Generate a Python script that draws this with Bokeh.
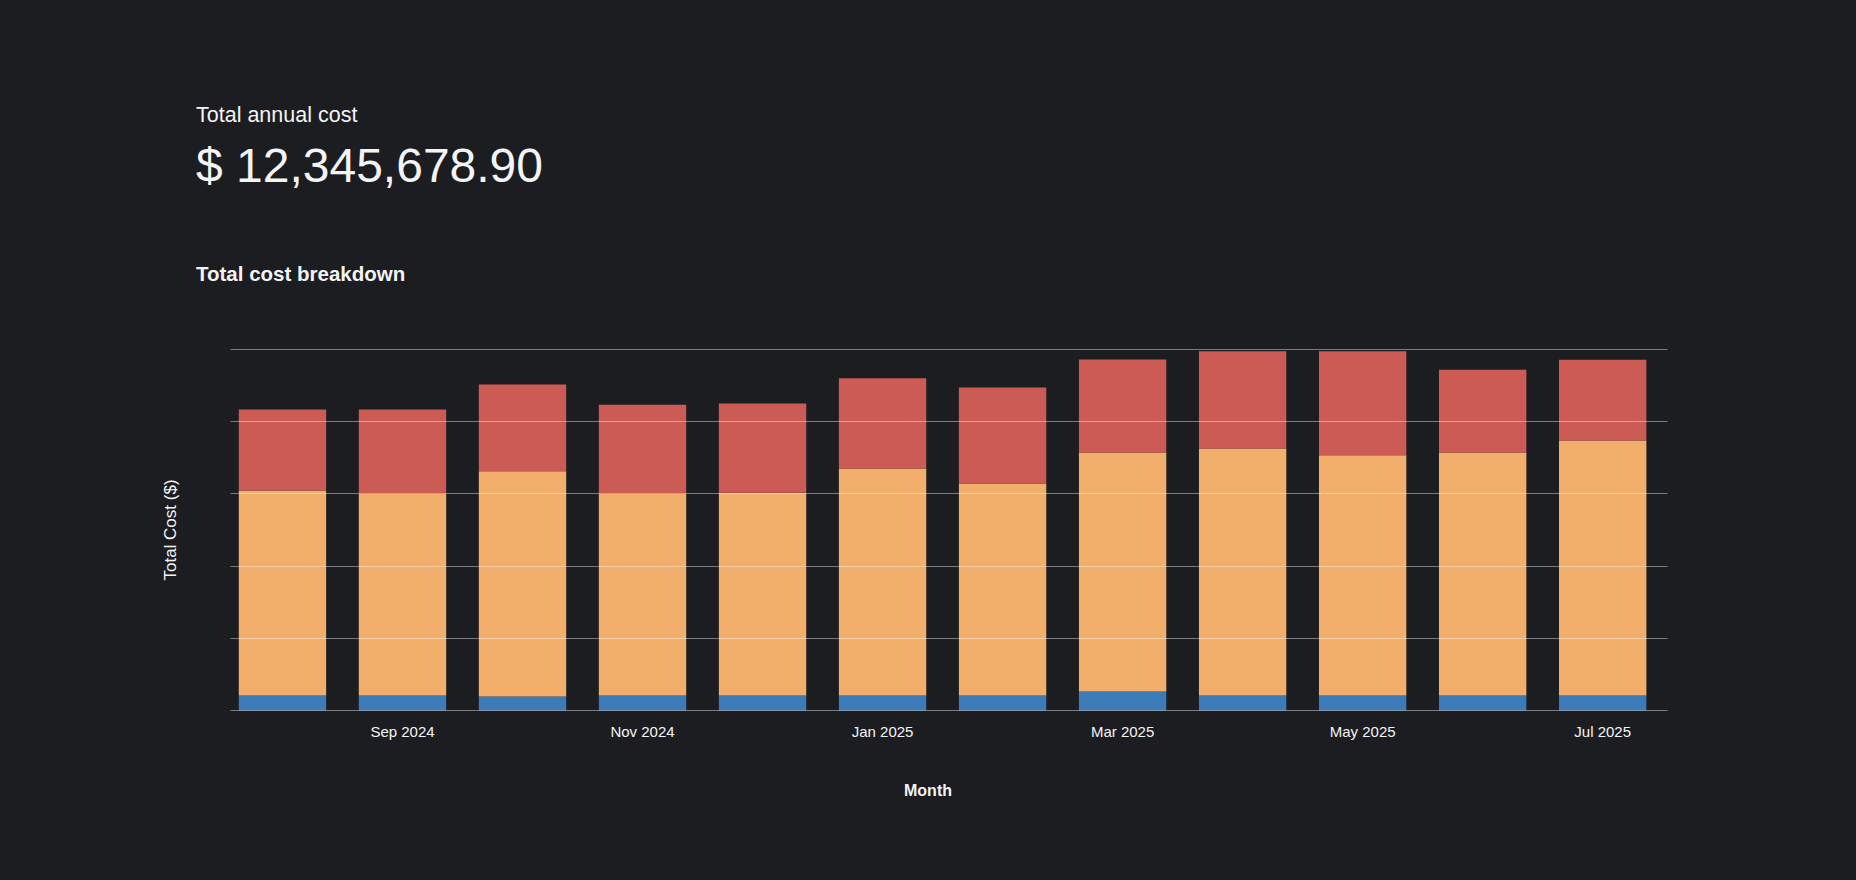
from bokeh.plotting import figure
from bokeh.layouts import column
from bokeh.models import ColumnDataSource, FixedTicker, Div
from bokeh.embed import file_html
from bokeh.resources import INLINE

# Monthly cost data (USD), stacked bottom to top
months = ["Aug 2024", "Sep 2024", "Oct 2024", "Nov 2024", "Dec 2024", "Jan 2025",
          "Feb 2025", "Mar 2025", "Apr 2025", "May 2025", "Jun 2025", "Jul 2025"]
base_cost = [41500, 41500, 38800, 41500, 41500, 41500,
             41500, 52600, 41500, 41500, 41500, 41500]
usage_cost = [567900, 558800, 624100, 558800, 561600, 628900,
              587300, 662100, 684300, 665700, 673200, 706400]
overhead_cost = [224400, 233500, 240200, 246500, 247300, 250100,
                 265900, 257600, 269500, 288100, 229100, 223600]
y_ticks = [0, 200000, 400000, 600000, 800000, 1000000]
labelled_months = [1, 3, 5, 7, 9, 11]

annual_total_text = "$ 12,345,678.90"

BG = "#1c1d21"
TEXT = "#f4f4f4"
FONT = "Liberation Sans"

W = 1856
HEADER_H, FIG_H, FOOTER_H = 300, 480, 100
FRAME_L, FRAME_R = 230, 1667
# frame is padded 2px past the outer gridlines so they are not clipped
FRAME_TOP_IN_FIG, FRAME_BOTTOM_IN_FIG = 47, 412
Y_PAD = 5540


def text_block(text, left, baseline, size, weight=400, center=False):
    # absolutely placed line of text; baseline is ~0.83em below the top at line-height 1
    top = baseline - 0.8305 * size
    if center:
        pos = f"left:{left}px;transform:translateX(-50%);"
    else:
        pos = f"left:{left}px;"
    return (f'<span style="position:absolute;{pos}top:{top:.1f}px;'
            f'font-family:\'{FONT}\';font-size:{size}px;line-height:1;'
            f'font-weight:{weight};color:{TEXT};white-space:nowrap;">{text}</span>')


header = Div(
    width=W, height=HEADER_H,
    text=(f'<div style="position:relative;width:{W}px;height:{HEADER_H}px;">'
          + text_block("Total annual cost", 196, 123, 21.5)
          + text_block(annual_total_text, 196, 181.5, 48)
          + text_block("Total cost breakdown", 196, 280.5, 20.5, weight=700)
          + '</div>'),
    styles={"margin": "0", "padding": "0"},
)

source = ColumnDataSource(dict(
    x=list(range(len(months))),
    base=base_cost,
    usage=usage_cost,
    overhead=overhead_cost,
))

p = figure(
    width=W, height=FIG_H,
    output_backend="svg", toolbar_location=None,
    x_range=(-0.433, 11.54), y_range=(-Y_PAD, y_ticks[-1] + Y_PAD),
    min_border_left=FRAME_L, min_border_right=W - FRAME_R,
    min_border_top=FRAME_TOP_IN_FIG, min_border_bottom=FIG_H - FRAME_BOTTOM_IN_FIG,
    background_fill_color=BG, border_fill_color=BG,
    outline_line_color=None,
)

p.vbar_stack(
    ["base", "usage", "overhead"], x="x", width=0.728, source=source,
    color=["#3a7bb8", "#f2ae6b", "#cc5a55"], line_color=None,
)

# Horizontal grid drawn over the bars
p.xgrid.visible = False
p.ygrid.ticker = FixedTicker(ticks=y_ticks)
p.ygrid.grid_line_color = "white"
p.ygrid.grid_line_alpha = 0.42
p.ygrid.level = "overlay"

# Month labels below the bars
p.xaxis.ticker = FixedTicker(ticks=labelled_months)
p.xaxis.major_label_overrides = {i: months[i] for i in labelled_months}
p.xaxis.axis_line_color = None
p.xaxis.major_tick_line_color = None
p.xaxis.minor_tick_line_color = None
p.xaxis.major_tick_out = 0
p.xaxis.major_label_standoff = 10
p.xaxis.major_label_text_color = TEXT
p.xaxis.major_label_text_font = FONT
p.xaxis.major_label_text_font_size = "15px"

# Value axis: title only, no tick labels
p.yaxis.ticker = FixedTicker(ticks=[])
p.yaxis.axis_line_color = None
p.yaxis.major_tick_line_color = None
p.yaxis.minor_tick_line_color = None
p.yaxis.major_tick_out = 0
p.yaxis.major_label_standoff = 0
p.yaxis.axis_label = "Total Cost ($)"
p.yaxis.axis_label_standoff = 51
p.yaxis.axis_label_text_color = TEXT
p.yaxis.axis_label_text_font = FONT
p.yaxis.axis_label_text_font_size = "17px"
p.yaxis.axis_label_text_font_style = "normal"

footer = Div(
    width=W, height=FOOTER_H,
    text=(f'<div style="position:relative;width:{W}px;height:{FOOTER_H}px;">'
          + text_block("Month", 928, 16, 16, weight=700, center=True)
          + '</div>'),
    styles={"margin": "0", "padding": "0"},
)

page = column(header, p, footer, spacing=0, styles={"background-color": BG})

html = file_html(page, INLINE, title="Total cost breakdown")
html = html.replace(
    "<head>",
    f"<head><style>html,body{{margin:0;padding:0;background:{BG};}}</style>",
    1,
)
open("out.html", "w").write(html)
